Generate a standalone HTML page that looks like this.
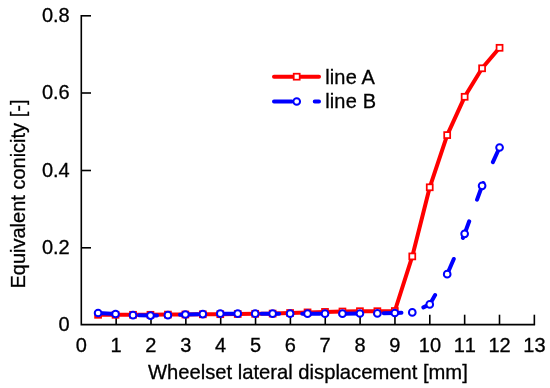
<!DOCTYPE html>
<html><head><meta charset="utf-8"><title>Equivalent conicity</title>
<style>html,body{margin:0;padding:0;background:#fff}svg{display:block}text{font-family:"Liberation Sans",Arial,sans-serif;fill:#000;stroke:#000;stroke-width:0.3px}</style></head><body>
<svg width="550" height="388" viewBox="0 0 550 388">
<rect width="550" height="388" fill="#fff"/>
<g stroke="#000" stroke-width="1.6" fill="none" stroke-linecap="butt">
<path d="M81.30 15 V324.60 H535.1"/>
<path d="M116.15 324.60 V314.7"/>
<path d="M151.00 324.60 V314.7"/>
<path d="M185.85 324.60 V314.7"/>
<path d="M220.70 324.60 V314.7"/>
<path d="M255.55 324.60 V314.7"/>
<path d="M290.40 324.60 V314.7"/>
<path d="M325.25 324.60 V314.7"/>
<path d="M360.10 324.60 V314.7"/>
<path d="M394.95 324.60 V314.7"/>
<path d="M429.80 324.60 V314.7"/>
<path d="M464.65 324.60 V314.7"/>
<path d="M499.50 324.60 V314.7"/>
<path d="M534.35 324.60 V314.7"/>
<path d="M81.30 247.80 H91"/>
<path d="M81.30 170.50 H91"/>
<path d="M81.30 93.00 H91"/>
<path d="M81.30 15.80 H91"/>
</g>
<polyline points="98.09,314.80 115.55,314.80 133.00,314.80 150.46,314.80 167.91,314.60 185.37,314.50 202.82,314.30 220.28,314.20 237.73,314.00 255.19,313.80 272.64,313.60 290.10,313.00 307.55,312.40 325.01,311.90 342.46,311.50 359.92,311.20 377.37,311.20 394.83,311.00 412.28,256.40 429.74,187.30 447.19,135.10 464.65,96.80 482.10,68.30 499.56,47.80" fill="none" stroke="#f00" stroke-width="4" stroke-linejoin="round" stroke-linecap="round"/>
<rect x="95.11" y="311.82" width="5.96" height="5.96" fill="#fff" stroke="#f00" stroke-width="1.75"/>
<rect x="112.57" y="311.82" width="5.96" height="5.96" fill="#fff" stroke="#f00" stroke-width="1.75"/>
<rect x="130.03" y="311.82" width="5.96" height="5.96" fill="#fff" stroke="#f00" stroke-width="1.75"/>
<rect x="147.48" y="311.82" width="5.96" height="5.96" fill="#fff" stroke="#f00" stroke-width="1.75"/>
<rect x="164.94" y="311.62" width="5.96" height="5.96" fill="#fff" stroke="#f00" stroke-width="1.75"/>
<rect x="182.39" y="311.52" width="5.96" height="5.96" fill="#fff" stroke="#f00" stroke-width="1.75"/>
<rect x="199.84" y="311.32" width="5.96" height="5.96" fill="#fff" stroke="#f00" stroke-width="1.75"/>
<rect x="217.30" y="311.22" width="5.96" height="5.96" fill="#fff" stroke="#f00" stroke-width="1.75"/>
<rect x="234.75" y="311.02" width="5.96" height="5.96" fill="#fff" stroke="#f00" stroke-width="1.75"/>
<rect x="252.21" y="310.82" width="5.96" height="5.96" fill="#fff" stroke="#f00" stroke-width="1.75"/>
<rect x="269.66" y="310.62" width="5.96" height="5.96" fill="#fff" stroke="#f00" stroke-width="1.75"/>
<rect x="287.12" y="310.02" width="5.96" height="5.96" fill="#fff" stroke="#f00" stroke-width="1.75"/>
<rect x="304.57" y="309.42" width="5.96" height="5.96" fill="#fff" stroke="#f00" stroke-width="1.75"/>
<rect x="322.03" y="308.92" width="5.96" height="5.96" fill="#fff" stroke="#f00" stroke-width="1.75"/>
<rect x="339.48" y="308.52" width="5.96" height="5.96" fill="#fff" stroke="#f00" stroke-width="1.75"/>
<rect x="356.94" y="308.22" width="5.96" height="5.96" fill="#fff" stroke="#f00" stroke-width="1.75"/>
<rect x="374.39" y="308.22" width="5.96" height="5.96" fill="#fff" stroke="#f00" stroke-width="1.75"/>
<rect x="391.85" y="308.02" width="5.96" height="5.96" fill="#fff" stroke="#f00" stroke-width="1.75"/>
<rect x="409.30" y="253.42" width="5.96" height="5.96" fill="#fff" stroke="#f00" stroke-width="1.75"/>
<rect x="426.76" y="184.32" width="5.96" height="5.96" fill="#fff" stroke="#f00" stroke-width="1.75"/>
<rect x="444.21" y="132.12" width="5.96" height="5.96" fill="#fff" stroke="#f00" stroke-width="1.75"/>
<rect x="461.67" y="93.82" width="5.96" height="5.96" fill="#fff" stroke="#f00" stroke-width="1.75"/>
<rect x="479.12" y="65.32" width="5.96" height="5.96" fill="#fff" stroke="#f00" stroke-width="1.75"/>
<rect x="496.58" y="44.82" width="5.96" height="5.96" fill="#fff" stroke="#f00" stroke-width="1.75"/>
<polyline points="98.09,313.00 115.55,314.00 133.00,315.20 150.46,315.60 167.91,315.20 185.37,314.50 202.82,314.10 220.28,313.70 237.73,313.70 255.19,313.70 272.64,313.70 290.10,313.70 307.55,313.70 325.01,313.70 342.46,313.70 359.92,313.50 377.37,313.40 394.83,313.00 412.28,312.40 429.74,304.40 447.19,274.20 464.65,233.80 482.10,185.80 499.56,147.50" fill="none" stroke="#00f" stroke-width="4" stroke-linejoin="round" stroke-linecap="round" stroke-dasharray="17.75 23" stroke-dashoffset="-0.5"/>
<circle cx="98.09" cy="313.00" r="3.35" fill="#fff" stroke="#00f" stroke-width="2"/>
<circle cx="115.55" cy="314.00" r="3.35" fill="#fff" stroke="#00f" stroke-width="2"/>
<circle cx="133.00" cy="315.20" r="3.35" fill="#fff" stroke="#00f" stroke-width="2"/>
<circle cx="150.46" cy="315.60" r="3.35" fill="#fff" stroke="#00f" stroke-width="2"/>
<circle cx="167.91" cy="315.20" r="3.35" fill="#fff" stroke="#00f" stroke-width="2"/>
<circle cx="185.37" cy="314.50" r="3.35" fill="#fff" stroke="#00f" stroke-width="2"/>
<circle cx="202.82" cy="314.10" r="3.35" fill="#fff" stroke="#00f" stroke-width="2"/>
<circle cx="220.28" cy="313.70" r="3.35" fill="#fff" stroke="#00f" stroke-width="2"/>
<circle cx="237.73" cy="313.70" r="3.35" fill="#fff" stroke="#00f" stroke-width="2"/>
<circle cx="255.19" cy="313.70" r="3.35" fill="#fff" stroke="#00f" stroke-width="2"/>
<circle cx="272.64" cy="313.70" r="3.35" fill="#fff" stroke="#00f" stroke-width="2"/>
<circle cx="290.10" cy="313.70" r="3.35" fill="#fff" stroke="#00f" stroke-width="2"/>
<circle cx="307.55" cy="313.70" r="3.35" fill="#fff" stroke="#00f" stroke-width="2"/>
<circle cx="325.01" cy="313.70" r="3.35" fill="#fff" stroke="#00f" stroke-width="2"/>
<circle cx="342.46" cy="313.70" r="3.35" fill="#fff" stroke="#00f" stroke-width="2"/>
<circle cx="359.92" cy="313.50" r="3.35" fill="#fff" stroke="#00f" stroke-width="2"/>
<circle cx="377.37" cy="313.40" r="3.35" fill="#fff" stroke="#00f" stroke-width="2"/>
<circle cx="394.83" cy="313.00" r="3.35" fill="#fff" stroke="#00f" stroke-width="2"/>
<circle cx="412.28" cy="312.40" r="3.35" fill="#fff" stroke="#00f" stroke-width="2"/>
<circle cx="429.74" cy="304.40" r="3.35" fill="#fff" stroke="#00f" stroke-width="2"/>
<circle cx="447.19" cy="274.20" r="3.35" fill="#fff" stroke="#00f" stroke-width="2"/>
<circle cx="464.65" cy="233.80" r="3.35" fill="#fff" stroke="#00f" stroke-width="2"/>
<circle cx="482.10" cy="185.80" r="3.35" fill="#fff" stroke="#00f" stroke-width="2"/>
<circle cx="499.56" cy="147.50" r="3.35" fill="#fff" stroke="#00f" stroke-width="2"/>
<path d="M274 76.7 H319" stroke="#f00" stroke-width="4" stroke-linecap="round"/>
<rect x="293.72" y="73.72" width="5.96" height="5.96" fill="#fff" stroke="#f00" stroke-width="1.75"/>
<path d="M274 101.5 H319" stroke="#00f" stroke-width="4" stroke-linecap="round" stroke-dasharray="17.75 23"/>
<circle cx="296.7" cy="101.5" r="3.35" fill="#fff" stroke="#00f" stroke-width="2"/>
<text x="325.2" y="83.6" font-size="20" letter-spacing="0.15">line A</text>
<text x="325.2" y="108.2" font-size="20" letter-spacing="0.15">line B</text>
<text x="81.20" y="351.55" font-size="20" text-anchor="middle" style="font-kerning:none">0</text>
<text x="116.05" y="351.55" font-size="20" text-anchor="middle" style="font-kerning:none">1</text>
<text x="150.90" y="351.55" font-size="20" text-anchor="middle" style="font-kerning:none">2</text>
<text x="185.75" y="351.55" font-size="20" text-anchor="middle" style="font-kerning:none">3</text>
<text x="220.60" y="351.55" font-size="20" text-anchor="middle" style="font-kerning:none">4</text>
<text x="255.45" y="351.55" font-size="20" text-anchor="middle" style="font-kerning:none">5</text>
<text x="290.30" y="351.55" font-size="20" text-anchor="middle" style="font-kerning:none">6</text>
<text x="325.15" y="351.55" font-size="20" text-anchor="middle" style="font-kerning:none">7</text>
<text x="360.00" y="351.55" font-size="20" text-anchor="middle" style="font-kerning:none">8</text>
<text x="394.85" y="351.55" font-size="20" text-anchor="middle" style="font-kerning:none">9</text>
<text x="429.90" y="351.55" font-size="20" text-anchor="middle" style="font-kerning:none">10</text>
<text x="464.75" y="351.55" font-size="20" text-anchor="middle" style="font-kerning:none">11</text>
<text x="499.60" y="351.55" font-size="20" text-anchor="middle" style="font-kerning:none">12</text>
<text x="534.45" y="351.55" font-size="20" text-anchor="middle" style="font-kerning:none">13</text>
<text x="69.7" y="330.50" font-size="20" text-anchor="end">0</text>
<text x="69.7" y="253.90" font-size="20" text-anchor="end">0.2</text>
<text x="69.7" y="176.70" font-size="20" text-anchor="end">0.4</text>
<text x="69.7" y="99.20" font-size="20" text-anchor="end">0.6</text>
<text x="69.7" y="21.80" font-size="20" text-anchor="end">0.8</text>
<text x="148.0" y="378.8" font-size="20.2">Wheelset lateral displacement [mm]</text>
<text transform="translate(24.5 194.05) rotate(-90)" font-size="20" text-anchor="middle">Equivalent conicity [-]</text>
</svg></body></html>
